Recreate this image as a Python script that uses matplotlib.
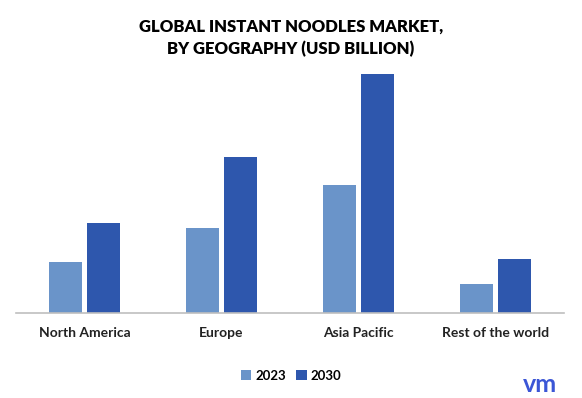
import matplotlib.pyplot as plt
import numpy as np

regions = ["North America", "Europe", "Asia Pacific", "Rest of the world"]
val_2023 = [51, 85, 128, 29]
val_2030 = [90, 156, 239, 54]

c23 = "#6a94c9"
c30 = "#2e57ad"

plt.rcParams['font.family'] = ['Lato', 'DejaVu Sans']

fig = plt.figure(figsize=(5.82, 3.98), dpi=100)
ax = fig.add_axes([16/582, 1-313/398, (564-16)/582, (313-74)/398])

x = np.arange(len(regions))
w = 0.24
gap = 0.018
ax.bar(x - w/2 - gap, val_2023, w, color=c23, label="2023")
ax.bar(x + w/2 + gap, val_2030, w, color=c30, label="2030")

ax.set_xlim(-0.5, len(regions) - 0.5)
ax.set_ylim(0, 239)
ax.set_xticks(x)
ax.set_xticklabels(regions, fontsize=10, fontweight='bold', color='#222222')
ax.tick_params(axis='x', length=0, pad=10)
ax.set_yticks([])
for s in ['top', 'right', 'left']:
    ax.spines[s].set_visible(False)
ax.spines['bottom'].set_color('#bfbfbf')
ax.spines['bottom'].set_linewidth(1.2)

fig.text(0.5, 1-38/398, "GLOBAL INSTANT NOODLES MARKET,\nBY GEOGRAPHY (USD BILLION)",
         ha='center', va='center', fontsize=12, fontweight='heavy', linespacing=1.45)

fig.legend(loc='center', bbox_to_anchor=(0.5, 1-376/398), ncol=2, frameon=False,
           handlelength=0.8, handleheight=0.8, handletextpad=0.3,
           columnspacing=0.8, prop={'weight': 'bold', 'size': 9.5})

fig.text(540/582, 1-385/398, "vm", ha='center', va='center', fontsize=18,
         color='#3b56d6', fontweight='bold')

fig.savefig("out.png", dpi=100)
